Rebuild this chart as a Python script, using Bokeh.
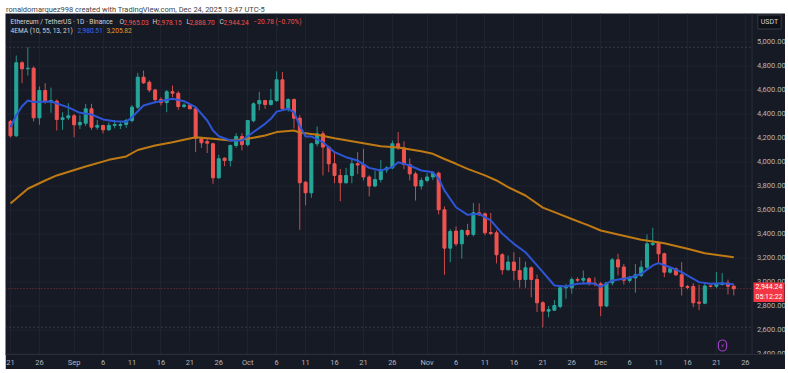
import pandas as pd
from bokeh.plotting import figure
from bokeh.models import (ColumnDataSource, FixedTicker, Label, Span, Div, Range1d)
from bokeh.layouts import column
from bokeh.core.properties import value
from bokeh.embed import file_html
from bokeh.resources import INLINE

# ---------------- data (ETH/USDT, 1D, Binance) ----------------
start_date = "2025-08-21"
opens = [4338, 4218, 4827, 4777, 4782, 4368, 4596, 4504, 4507, 4354, 4368, 4385, 4310, 4323, 4443, 4290, 4304, 4268, 4305, 4305, 4312, 4346, 4457, 4707, 4665,
         4600, 4520, 4495, 4586, 4573, 4462, 4475, 4443, 4198, 4170, 4152, 3868, 4032, 4012, 4138, 4213, 4145, 4344, 4485, 4512, 4479, 4512, 4685, 4443, 4521, 4365,
         3832, 3743, 4152, 4235, 4124, 3985, 3888, 3827, 3888, 3985, 3979, 3875, 3800, 3854, 3935, 3951, 4152, 4118, 3979, 3901, 3800, 3846, 3875, 3907, 3602, 3282,
         3424, 3318, 3429, 3396, 3577, 3568, 3412, 3410, 3227, 3102, 3166, 3096, 3021, 3118, 3021, 2827, 2757, 2765, 2796, 2952, 2952, 3021, 3015, 3027, 2990,
         2985, 2800, 2993, 3185, 3125, 3013, 3035, 3054, 3123, 3313, 3323, 3235, 3082, 3110, 3060, 2963, 2963, 2832, 2823, 2967, 2965, 2980, 2992, 2965.03]
highs = [4350, 4887, 4840, 4956, 4796, 4630, 4657, 4620, 4520, 4415, 4490, 4400, 4390, 4485, 4485, 4350, 4310, 4330, 4350, 4330, 4360, 4475, 4743, 4762, 4680,
         4610, 4540, 4600, 4637, 4590, 4490, 4485, 4450, 4210, 4200, 4160, 4060, 4038, 4145, 4240, 4240, 4350, 4498, 4585, 4518, 4610, 4755, 4750, 4530, 4530, 4390,
         3840, 4160, 4296, 4257, 4130, 4082, 3943, 3951, 4027, 4082, 4110, 3890, 3929, 4018, 3965, 4179, 4249, 4173, 4030, 3920, 3870, 3907, 3920, 3920, 3630, 3440,
         3463, 3440, 3485, 3658, 3655, 3579, 3575, 3430, 3240, 3221, 3248, 3207, 3170, 3130, 3062, 2840, 2800, 2850, 2960, 2985, 3040, 3040, 3096, 3040, 3040,
         3000, 3000, 3200, 3235, 3150, 3050, 3150, 3179, 3396, 3452, 3340, 3245, 3120, 3120, 3166, 2975, 2990, 2978, 2993, 2980, 3082, 3074, 3020, 2978.15]
lows = [4205, 4210, 4657, 4720, 4338, 4310, 4485, 4410, 4262, 4268, 4350, 4207, 4275, 4300, 4268, 4270, 4238, 4262, 4280, 4275, 4285, 4330, 4440, 4650, 4582,
        4495, 4470, 4415, 4540, 4435, 4450, 4440, 4082, 4118, 4075, 3818, 3860, 3965, 3963, 4118, 4096, 4130, 4330, 4430, 4443, 4471, 4500, 4440, 4420, 4280, 3435,
        3640, 3702, 4130, 3888, 3915, 3823, 3673, 3820, 3823, 3900, 3846, 3713, 3790, 3830, 3910, 3940, 4100, 3940, 3846, 3679, 3770, 3830, 3850, 3562, 3060, 3165,
        3300, 3195, 3380, 3380, 3550, 3390, 3390, 3155, 3062, 3095, 3013, 2952, 2952, 2873, 2750, 2623, 2705, 2760, 2780, 2860, 2902, 3000, 2990, 2970, 2963,
        2715, 2790, 2971, 3055, 2979, 2995, 2910, 3040, 3100, 3300, 3152, 3040, 3070, 3050, 2887, 2940, 2790, 2765, 2815, 2955, 2950, 2970, 2896, 2888.70]
closes = [4218, 4827, 4777, 4782, 4368, 4596, 4504, 4512, 4354, 4368, 4385, 4310, 4330, 4443, 4290, 4305, 4268, 4305, 4312, 4312, 4346, 4457, 4707, 4660, 4600,
          4520, 4495, 4586, 4573, 4462, 4475, 4443, 4198, 4160, 4157, 3868, 4027, 4012, 4138, 4213, 4145, 4346, 4485, 4512, 4479, 4512, 4685, 4443, 4521, 4365, 3827,
          3743, 4152, 4235, 4124, 3985, 3888, 3827, 3888, 3985, 3975, 3875, 3800, 3854, 3935, 3951, 4152, 4118, 3979, 3901, 3800, 3846, 3875, 3907, 3602, 3282, 3421,
          3318, 3429, 3396, 3577, 3560, 3410, 3405, 3227, 3102, 3166, 3096, 3021, 3118, 3021, 2827, 2757, 2770, 2804, 2952, 2960, 3021, 3015, 3030, 2990, 2985,
          2800, 2993, 3185, 3125, 3015, 3040, 3060, 3123, 3318, 3323, 3235, 3082, 3110, 3060, 2963, 2955, 2827, 2823, 2967, 2963, 2986, 2992, 2965.02, 2944.24]

# EMA(10) and EMA(55) (day offset from start, value)
ema10_day = [0, 1, 2, 3, 4, 7, 10, 12, 14, 16, 18, 20, 21, 23, 25, 28, 30, 32, 34, 35, 36, 38, 40, 42, 44, 45, 46, 48, 49, 50,
             51, 52, 54, 56, 58, 60, 62, 64, 66, 67, 69, 71, 73, 74, 75, 76, 77, 79, 81, 83, 85, 87, 89, 91, 93, 94, 96, 98, 100, 101,
             102, 104, 107, 109, 111, 112, 114, 116, 118, 119, 121, 123, 125]
ema10_val = [4290, 4390, 4465, 4512, 4500, 4504, 4455, 4410, 4396, 4355, 4340, 4335, 4373, 4471, 4498, 4527, 4507, 4457, 4346, 4262,
             4215, 4179, 4179, 4250, 4318, 4360, 4420, 4443, 4415, 4300, 4213, 4213, 4165, 4082, 4040, 4012, 3951, 3929, 3957, 3998,
             3971, 3929, 3915, 3860, 3763, 3693, 3623, 3560, 3568, 3513, 3402, 3318, 3248, 3138, 3027, 2971, 2963, 2985, 2990, 2985,
             2960, 3013, 3035, 3068, 3138, 3157, 3123, 3082, 3027, 2999, 2985, 2990, 2980.51]
ema55_day = [0, 3, 6, 8, 13, 17, 20, 22, 25, 28, 32, 35, 38, 41, 44, 46, 49, 50, 53, 56, 60, 64, 67, 71, 73, 75, 77, 79, 82, 84,
             86, 89, 92, 94, 97, 100, 102, 105, 109, 113, 117, 120, 125]
ema55_val = [3655, 3777, 3846, 3888, 3963, 4018, 4046, 4100, 4138, 4165, 4207, 4193, 4179, 4193, 4221, 4249, 4262, 4245, 4227, 4198,
             4165, 4132, 4120, 4090, 4068, 4025, 3985, 3943, 3888, 3846, 3790, 3721, 3620, 3582, 3525, 3470, 3429, 3396, 3352, 3323,
             3277, 3240, 3205.82]

tick_dates = ["2025-08-21", "2025-08-26", "2025-09-01", "2025-09-06", "2025-09-11", "2025-09-16", "2025-09-21", "2025-09-26",
              "2025-10-01", "2025-10-06", "2025-10-11", "2025-10-16", "2025-10-21", "2025-10-26",
              "2025-11-01", "2025-11-06", "2025-11-11", "2025-11-16", "2025-11-21", "2025-11-26",
              "2025-12-01", "2025-12-06", "2025-12-11", "2025-12-16", "2025-12-21", "2025-12-26"]
tick_labels = ["21", "26", "Sep", "6", "11", "16", "21", "26", "Oct", "6", "11", "16", "21", "26",
               "Nov", "6", "11", "16", "21", "26", "Dec", "6", "11", "16", "21", "26"]
price_ticks = [2400, 2600, 2800, 3000, 3200, 3400, 3600, 3800, 4000, 4200, 4400, 4600, 4800, 5000]
countdown = "05:12:22"

# ---------------- styling / layout constants ----------------
BG = "#161A25"
GRID = "#1F2330"
SEPC = "#2A2E39"
TXT = "#B2B5BE"
UP = "#26A69A"
DOWN = "#EF5350"
BLUE = "#2D55D6"
ORANGE = "#C07A14"
FONT = "Roboto"
FW, FH = 780, 341                 # plot frame (candles + price column)
X_START, X_END = -0.86, 133.94    # visible day range
Y_START, Y_END = 2395.8, 5237.5   # visible price range
SEP_X = 128.16                    # where the price scale column begins (day units)
PRICE_LABEL_X = 129.0

t0 = pd.Timestamp(start_date)
dates = pd.date_range(t0, periods=len(closes), freq="D")
xs = [(d - t0).days for d in dates]
tick_pos = [(pd.Timestamp(d) - t0).days for d in tick_dates]

colors = [UP if c >= o else DOWN for o, c in zip(opens, closes)]
src = ColumnDataSource(dict(
    x=xs, open=opens, high=highs, low=lows, close=closes,
    top=[max(o, c) for o, c in zip(opens, closes)],
    bottom=[min(o, c) for o, c in zip(opens, closes)],
    color=colors,
))

p = figure(frame_width=FW, frame_height=FH, output_backend="svg", toolbar_location=None,
           x_range=Range1d(X_START, X_END), y_range=Range1d(Y_START, Y_END),
           y_axis_location=None,
           min_border_left=0, min_border_top=0, min_border_right=0, min_border_bottom=14,
           background_fill_color=BG, border_fill_color=BG, outline_line_color=None,
           margin=(0, 0, 0, 5))

# time axis
xax = p.xaxis[0]
xax.ticker = FixedTicker(ticks=tick_pos)
xax.major_label_overrides = {tp: lab for tp, lab in zip(tick_pos, tick_labels)}
xax.axis_line_color = SEPC
xax.major_tick_line_color = None
xax.minor_tick_line_color = None
xax.major_tick_out = 0
xax.major_tick_in = 0
xax.major_label_standoff = 3
xax.axis_label_standoff = 0
xax.major_label_text_color = TXT
xax.major_label_text_font = FONT
xax.major_label_text_font_size = "7.5px"

p.xgrid.ticker = FixedTicker(ticks=tick_pos)
p.xgrid.grid_line_color = GRID
p.ygrid.grid_line_color = None

# horizontal grid (only over the candle area) and price scale
n = len(price_ticks)
p.segment(x0=[X_START] * n, y0=price_ticks, x1=[SEP_X] * n, y1=price_ticks,
          line_color=GRID, line_width=1)
p.add_layout(Span(location=SEP_X, dimension="height", line_color=SEPC, line_width=1))
p.text(x=[PRICE_LABEL_X] * n, y=price_ticks, text=[f"{v:,.2f}" for v in price_ticks],
       text_color=TXT, text_font=value(FONT), text_font_size="7.5px",
       text_baseline="middle", text_align="left")

# high / low of range and last price dotted lines
p.segment(x0=[X_START, X_START], y0=[max(highs), min(lows)], x1=[SEP_X, SEP_X],
          y1=[max(highs), min(lows)], line_color="#565A66", line_dash="1 3", line_width=1)
p.segment(x0=[X_START], y0=[closes[-1]], x1=[SEP_X], y1=[closes[-1]],
          line_color=DOWN, line_alpha=0.55, line_dash="1 2", line_width=1)

# candles
p.segment(x0="x", y0="high", x1="x", y1="low", line_color="color", line_alpha=0.85,
          line_width=1, source=src)
p.vbar(x="x", width=0.52, top="top", bottom="bottom", fill_color="color",
       line_color="color", line_width=1, source=src)

# EMAs
p.line(ema55_day, ema55_val, line_color=ORANGE, line_width=2)
p.line(ema10_day, ema10_val, line_color=BLUE, line_width=2)


# ---------------- legend texts ----------------
def lab(x, y_from_top, text, color, size="6.6px", **kw):
    p.add_layout(Label(x=x, y=FH - y_from_top, x_units="screen", y_units="screen", text=text,
                       text_color=color, text_font=FONT, text_font_size=size,
                       text_baseline="middle", **kw))


chg = closes[-1] - closes[-2]
pct = chg / closes[-2] * 100
l1 = 8.7
lab(5, l1, "Ethereum / TetherUS · 1D · Binance", "#D1D4DC")
lab(114, l1, "O", "#D1D4DC")
lab(118, l1, f"{opens[-1]:,.2f}", DOWN)
lab(147, l1, "H", "#D1D4DC")
lab(151, l1, f"{highs[-1]:,.2f}", DOWN)
lab(181, l1, "L", "#D1D4DC")
lab(184, l1, f"{lows[-1]:,.2f}", DOWN)
lab(214, l1, "C", "#D1D4DC")
lab(218, l1, f"{closes[-1]:,.2f}", DOWN)
lab(248, l1, f"\u2212{abs(chg):.2f} (\u2212{abs(pct):.2f}%)", DOWN)
l2 = 17.3
lab(5, l2, "4EMA (10, 55, 13, 21)", "#D1D4DC")
lab(72, l2, f"{ema10_val[-1]:,.2f}", "#3D6BF0")
lab(101, l2, f"{ema55_val[-1]:,.2f}", "#E69A28")

# USDT box (top right) and last price box on the price scale
p.add_layout(Label(x=764, y=FH - 8.5, x_units="screen", y_units="screen", text="USDT",
                   text_color="#D1D4DC", text_font=FONT, text_font_size="7px",
                   text_align="center", text_baseline="middle",
                   background_fill_color="#0F1119", border_line_color="#363A45",
                   padding=3))
p.add_layout(Label(x=763.5, y=closes[-1], x_units="screen", y_units="data", y_offset=-3.5,
                   text=f"{closes[-1]:,.2f}\n{countdown}", text_color="white", text_font=FONT,
                   text_font_size="7px", text_align="center", text_baseline="middle",
                   background_fill_color="#F23645", padding=(2, 1)))

# alert icon near the time axis
p.add_layout(Label(x=717, y=9, x_units="screen", y_units="screen", text="\u26A1",
                   text_color="#B04BD0", text_font="DejaVu Sans", text_font_size="6px",
                   text_align="center", text_baseline="middle",
                   border_line_color="#9C3FC4", border_line_width=1.2, border_radius=6,
                   padding=2))

header = Div(
    text='<div style="font-family:Roboto;font-size:7.5px;line-height:12px;padding-left:6px;'
         'color:#444;white-space:nowrap">ronaldomarquez998 created with TradingView.com, '
         'Dec 24, 2025 13:47 UTC-5</div>',
    width=785, height=13, margin=(0, 0, 0, 0))

layout = column(header, p, spacing=0)
open("out.html", "w").write(file_html(layout, INLINE))
